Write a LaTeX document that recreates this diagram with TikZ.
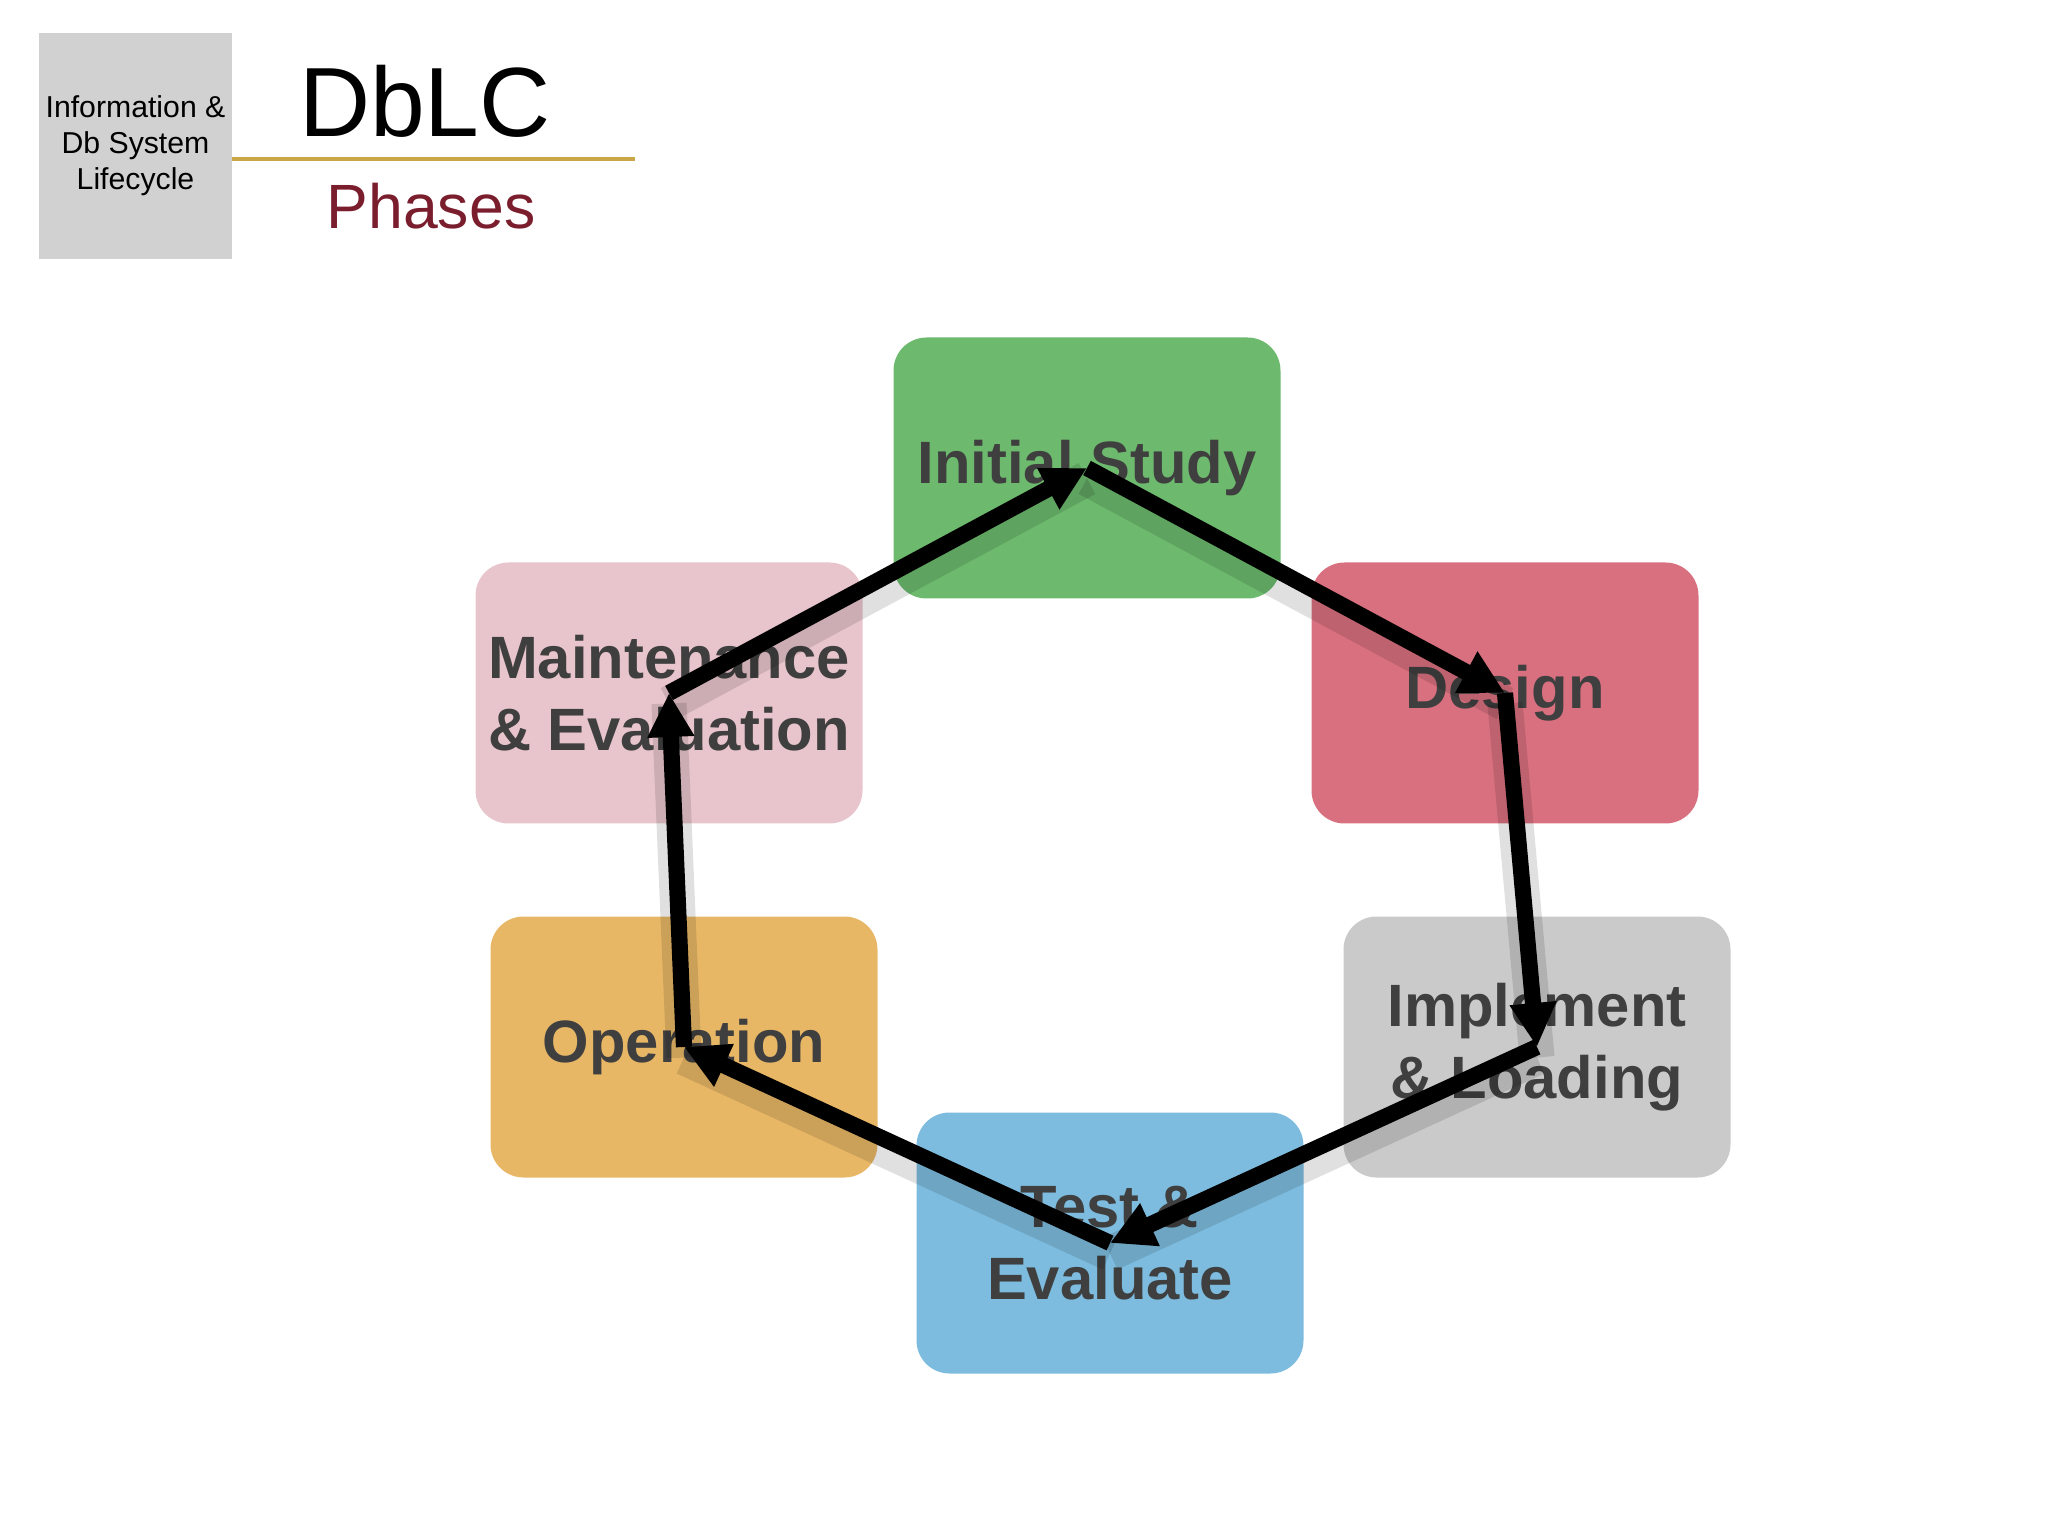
\documentclass[tikz,border=0pt]{standalone}
\usepackage{fontspec}
\setmainfont{Liberation Sans}
\usepackage{tikz}
\usetikzlibrary{positioning,arrows.meta,shapes}

\definecolor{hdrgray}{HTML}{D1D1D1}
\definecolor{rulegold}{HTML}{C9A646}
\definecolor{phasered}{HTML}{7A1E2E}
\definecolor{txtgray}{HTML}{3F3F3F}
\definecolor{stgreen}{HTML}{6DBA6E}
\definecolor{stred}{HTML}{D9707F}
\definecolor{stgray}{HTML}{CACACA}
\definecolor{stblue}{HTML}{7DBCDF}
\definecolor{storange}{HTML}{E8B766}
\definecolor{stpink}{HTML}{E8C5CC}

\begin{document}
\begin{tikzpicture}[
    phase/.style={rectangle, rounded corners=0.33cm, minimum width=3.87cm, minimum height=2.61cm,
        align=center, text=txtgray, font=\fontsize{17}{20.5}\selectfont\bfseries},
    arrow/.style={-{Triangle[length=0.44cm,width=0.44cm]}, line width=4.6pt, line join=round,
        preaction={draw=black, opacity=0.12, line width=10pt, -, transform canvas={yshift=-3pt}}}
]
\useasboundingbox (0,0) rectangle (20.48,-15.36);

% header
\node[fill=hdrgray, minimum width=1.93cm, minimum height=2.26cm, inner xsep=0pt, align=center,
      font=\fontsize{8.6}{10.2}\selectfont] (hdr) at (1.355,-1.46) {Information \&\\Db System\\Lifecycle};
\node[anchor=base, font=\fontsize{28}{30}\selectfont] (title) at (4.25,-1.37) {DbLC};
\node[anchor=base, text=phasered, font=\fontsize{17.8}{20}\selectfont] (sub) at (4.31,-2.29) {Phases};
\coordinate (rule-l) at (2.32,-1.59);
\coordinate (rule-r) at (6.35,-1.59);
\draw[rulegold, line width=1.1pt] (rule-l) -- (rule-r);

% phases
\node[phase, fill=stgreen] (init) at (10.87,-4.68) {Initial Study};
\node[phase, fill=stred] (design) at (15.05,-6.93) {Design};
\node[phase, fill=stgray] (impl) at (15.37,-10.47) {Implement\\\& Loading};
\node[phase, fill=stblue] (test) at (11.10,-12.43) {Test \&\\Evaluate};
\node[phase, fill=storange] (oper) at (6.84,-10.47) {Operation};
\node[phase, fill=stpink] (maint) at (6.69,-6.93) {Maintenance\\\& Evaluation};

% cycle
\draw[arrow] (maint.center) -- (init.center);
\draw[arrow] (init.center) -- (design.center);
\draw[arrow] (design.center) -- (impl.center);
\draw[arrow] (impl.center) -- (test.center);
\draw[arrow] (test.center) -- (oper.center);
\draw[arrow] (oper.center) -- (maint.center);

\end{tikzpicture}
\end{document}
